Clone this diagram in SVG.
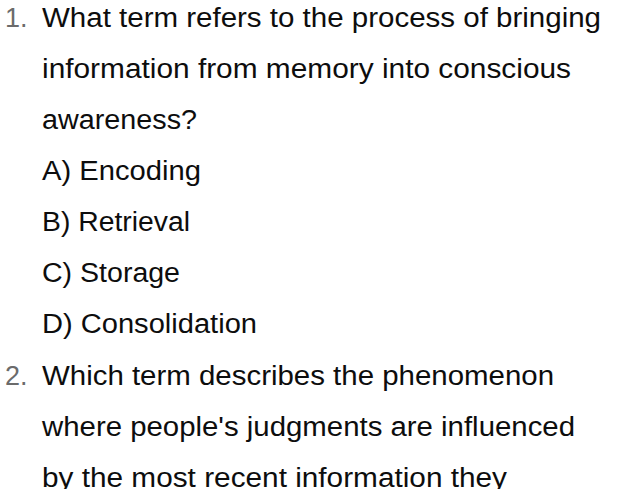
<svg xmlns="http://www.w3.org/2000/svg" width="630" height="489" viewBox="0 0 630 489">
<style>
text{font-family:"Liberation Sans",Arial,sans-serif;font-size:27px;fill:#0d0d0d}
.n{fill:#6b6b6b}
</style>
<rect width="630" height="489" fill="#fff"/>
<text class="n" x="5" y="27">1.</text>
<text x="42" y="27" textLength="559" lengthAdjust="spacingAndGlyphs">What term refers to the process of bringing</text>
<text x="42" y="78" textLength="529" lengthAdjust="spacingAndGlyphs">information from memory into conscious</text>
<text x="42" y="129" textLength="155" lengthAdjust="spacingAndGlyphs">awareness?</text>
<text x="42" y="180" textLength="159" lengthAdjust="spacingAndGlyphs">A) Encoding</text>
<text x="42" y="231" textLength="148" lengthAdjust="spacingAndGlyphs">B) Retrieval</text>
<text x="42" y="282" textLength="138" lengthAdjust="spacingAndGlyphs">C) Storage</text>
<text x="42" y="333" textLength="215" lengthAdjust="spacingAndGlyphs">D) Consolidation</text>
<text class="n" x="5" y="385">2.</text>
<text x="42" y="385" textLength="512" lengthAdjust="spacingAndGlyphs">Which term describes the phenomenon</text>
<text x="42" y="436" textLength="533" lengthAdjust="spacingAndGlyphs">where people's judgments are influenced</text>
<text x="42" y="487" textLength="465" lengthAdjust="spacingAndGlyphs">by the most recent information they</text>
</svg>
